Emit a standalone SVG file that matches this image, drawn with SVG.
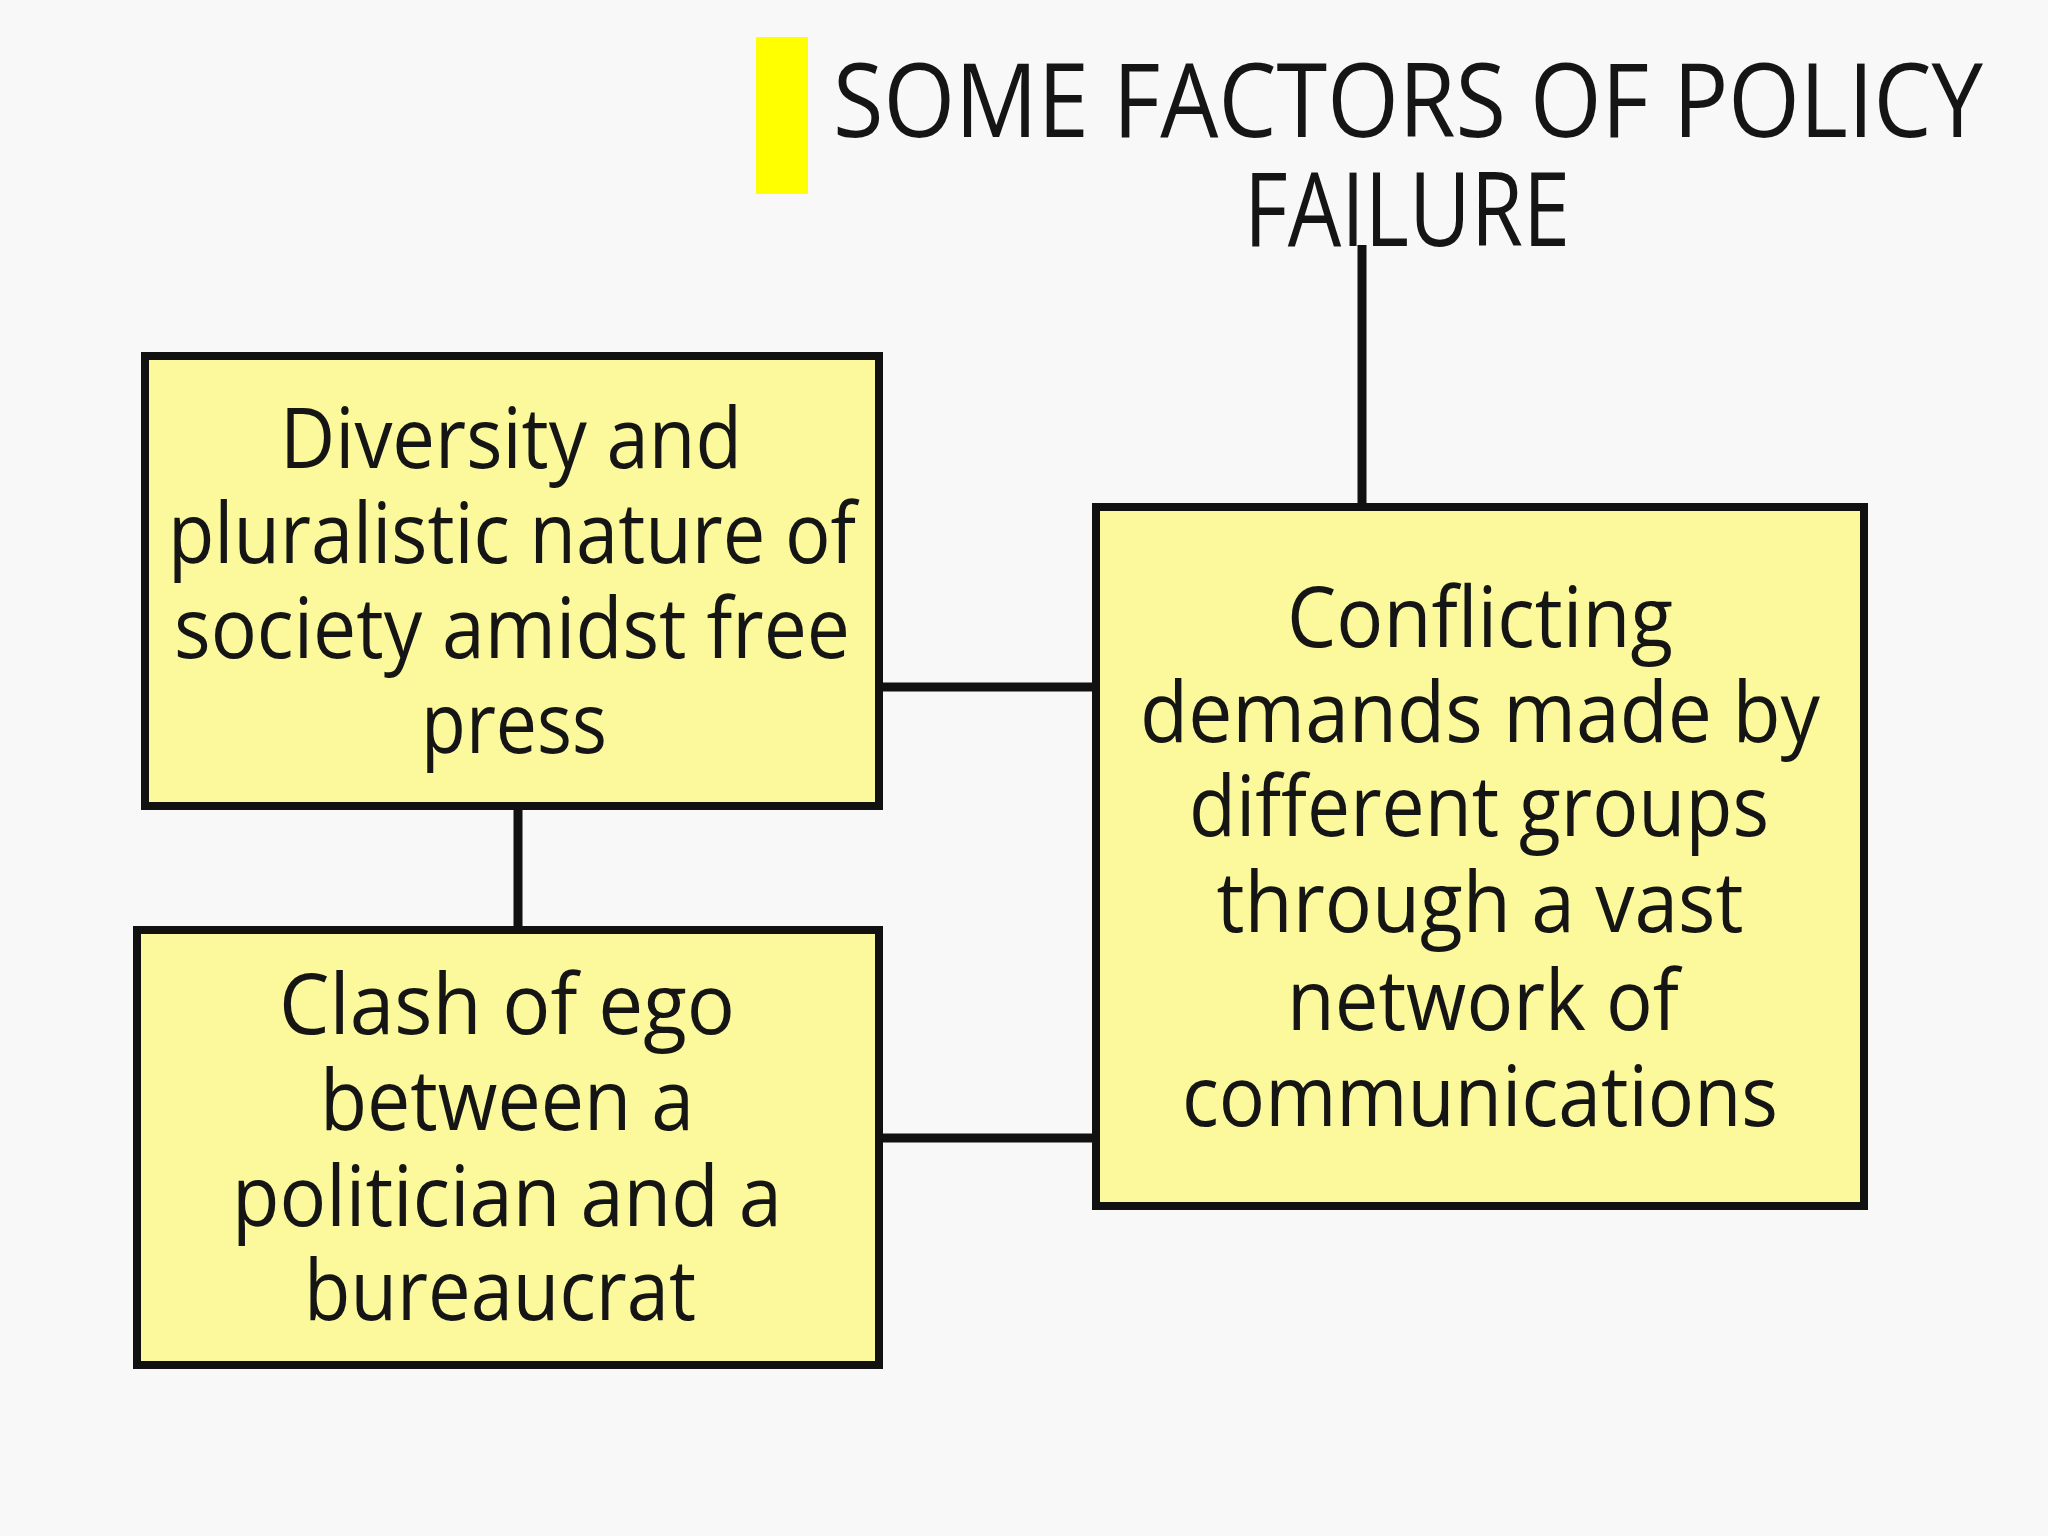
<svg xmlns="http://www.w3.org/2000/svg" width="2048" height="1536" viewBox="0 0 2048 1536">
<style>
.bg{fill:#f8f8f8}
.box{fill:#fbf99c;stroke:#111;stroke-width:8}
.lbl{font-family:"Open Sans","Noto Sans","Liberation Sans",sans-serif;font-size:84px;fill:#151515;text-anchor:middle}
.title{font-family:"Open Sans","Noto Sans","Liberation Sans",sans-serif;font-size:102px;fill:#151515;text-anchor:middle}
.conn{stroke:#111;stroke-width:9;fill:none}
</style>
<rect class="bg" x="0" y="0" width="2048" height="1536"/>
<g id="title">
<rect x="756" y="37" width="52" height="157" fill="#ffff00"/>
<text class="title" x="1408" y="137" textLength="1150" lengthAdjust="spacingAndGlyphs">SOME FACTORS OF POLICY</text>
<text class="title" x="1407" y="246" textLength="326" lengthAdjust="spacingAndGlyphs">FAILURE</text>
</g>
<g id="connectors">
<line class="conn" x1="1362" y1="245" x2="1362" y2="507"/>
<line class="conn" x1="879" y1="687" x2="1096" y2="687"/>
<line class="conn" x1="518" y1="806" x2="518" y2="930"/>
<line class="conn" x1="879" y1="1138" x2="1096" y2="1138"/>
</g>
<g id="node-diversity">
<rect class="box" x="145" y="356" width="734" height="450"/>
<text class="lbl" x="511" y="468" textLength="462" lengthAdjust="spacingAndGlyphs">Diversity and</text>
<text class="lbl" x="512" y="563" textLength="688" lengthAdjust="spacingAndGlyphs">pluralistic nature of</text>
<text class="lbl" x="512" y="658" textLength="676" lengthAdjust="spacingAndGlyphs">society amidst free</text>
<text class="lbl" x="514" y="753" textLength="186" lengthAdjust="spacingAndGlyphs">press</text>
</g>
<g id="node-clash">
<rect class="box" x="137" y="930" width="742" height="435"/>
<text class="lbl" x="507" y="1034" textLength="456" lengthAdjust="spacingAndGlyphs">Clash of ego</text>
<text class="lbl" x="507" y="1130" textLength="374" lengthAdjust="spacingAndGlyphs">between a</text>
<text class="lbl" x="507" y="1226" textLength="550" lengthAdjust="spacingAndGlyphs">politician and a</text>
<text class="lbl" x="500" y="1320" textLength="392" lengthAdjust="spacingAndGlyphs">bureaucrat</text>
</g>
<g id="node-conflicting">
<rect class="box" x="1096" y="507" width="768" height="699"/>
<text class="lbl" x="1480" y="647" textLength="386" lengthAdjust="spacingAndGlyphs">Conflicting</text>
<text class="lbl" x="1480" y="742" textLength="680" lengthAdjust="spacingAndGlyphs">demands made by</text>
<text class="lbl" x="1479" y="836" textLength="580" lengthAdjust="spacingAndGlyphs">different groups</text>
<text class="lbl" x="1480" y="932" textLength="527" lengthAdjust="spacingAndGlyphs">through a vast</text>
<text class="lbl" x="1483" y="1030" textLength="392" lengthAdjust="spacingAndGlyphs">network of</text>
<text class="lbl" x="1480" y="1126" textLength="596" lengthAdjust="spacingAndGlyphs">communications</text>
</g>
</svg>
